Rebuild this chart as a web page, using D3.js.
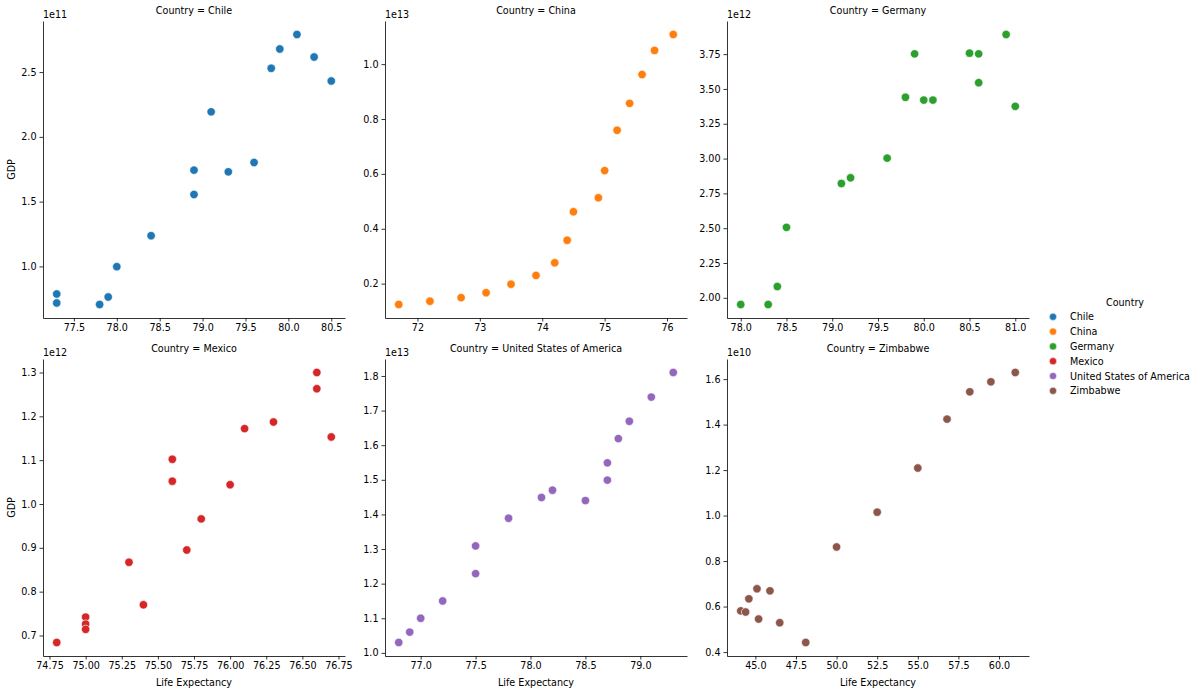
<!DOCTYPE html>
<html>
<head>
<meta charset="utf-8">
<script src="https://cdn.jsdelivr.net/npm/d3@7"></script>
<style>
  body { margin: 0; background: #fff; }
  svg { font-family: "DejaVu Sans", sans-serif; }
</style>
</head>
<body>
<svg id="chart" width="1200" height="694"></svg>
<script>
// data
const countries = ["Chile", "China", "Germany", "Mexico", "United States of America", "Zimbabwe"];
const colors = ["#1f77b4", "#ff7f0e", "#2ca02c", "#d62728", "#9467bd", "#8c564b"];

const lifeChile = [77.3, 77.3, 77.8, 77.9, 78.0, 78.4, 78.9, 78.9, 79.1, 79.3, 79.6, 79.8, 79.9, 80.1, 80.3, 80.5];
const gdpChile = [7.87e10, 7.18e10, 7.06e10, 7.64e10, 9.98e10, 1.237e11, 1.555e11, 1.743e11, 2.193e11, 1.730e11, 1.802e11, 2.529e11, 2.678e11, 2.790e11, 2.616e11, 2.431e11];

const lifeChina = [71.7, 72.2, 72.7, 73.1, 73.5, 73.9, 74.2, 74.4, 74.5, 74.9, 75.0, 75.2, 75.4, 75.6, 75.8, 76.1];
const gdpChina = [1.24e12, 1.36e12, 1.49e12, 1.67e12, 1.98e12, 2.30e12, 2.76e12, 3.58e12, 4.62e12, 5.13e12, 6.12e12, 7.59e12, 8.57e12, 9.62e12, 1.050e13, 1.108e13];

const lifeGermany = [78.0, 78.3, 78.4, 78.5, 79.1, 79.2, 79.6, 79.8, 79.9, 80.0, 80.1, 80.5, 80.6, 80.6, 80.9, 81.0];
const gdpGermany = [1.952e12, 1.952e12, 2.081e12, 2.506e12, 2.821e12, 2.862e12, 3.003e12, 3.440e12, 3.752e12, 3.420e12, 3.420e12, 3.757e12, 3.752e12, 3.545e12, 3.891e12, 3.375e12];

const lifeMexico = [74.8, 75.0, 75.0, 75.0, 75.3, 75.4, 75.6, 75.6, 75.7, 75.8, 76.0, 76.1, 76.3, 76.6, 76.6, 76.7];
const gdpMexico = [6.84e11, 7.42e11, 7.26e11, 7.14e11, 8.67e11, 7.70e11, 1.102e12, 1.052e12, 8.95e11, 9.66e11, 1.044e12, 1.172e12, 1.187e12, 1.300e12, 1.263e12, 1.153e12];

const lifeUSA = [76.8, 76.9, 77.0, 77.2, 77.5, 77.5, 77.8, 78.1, 78.2, 78.5, 78.7, 78.7, 78.8, 78.9, 79.1, 79.3];
const gdpUSA = [1.030e13, 1.060e13, 1.100e13, 1.150e13, 1.229e13, 1.309e13, 1.389e13, 1.449e13, 1.470e13, 1.440e13, 1.499e13, 1.549e13, 1.619e13, 1.669e13, 1.739e13, 1.810e13];

const lifeZimbabwe = [44.1, 44.4, 44.6, 45.1, 45.2, 45.9, 46.5, 48.1, 50.0, 52.5, 55.0, 56.8, 58.2, 59.5, 61.0];
const gdpZimbabwe = [5.81e9, 5.76e9, 6.34e9, 6.78e9, 5.45e9, 6.69e9, 5.29e9, 4.42e9, 8.62e9, 1.015e10, 1.209e10, 1.424e10, 1.544e10, 1.588e10, 1.629e10];

// tick values per facet
const xTicksChile = [77.5, 78.0, 78.5, 79.0, 79.5, 80.0, 80.5];
const yTicksChile = [1.0, 1.5, 2.0, 2.5];
const xTicksChina = [72, 73, 74, 75, 76];
const yTicksChina = [0.2, 0.4, 0.6, 0.8, 1.0];
const xTicksGermany = [78.0, 78.5, 79.0, 79.5, 80.0, 80.5, 81.0];
const yTicksGermany = [2.00, 2.25, 2.50, 2.75, 3.00, 3.25, 3.50, 3.75];
const xTicksMexico = [74.75, 75.00, 75.25, 75.50, 75.75, 76.00, 76.25, 76.50, 76.75];
const yTicksMexico = [0.7, 0.8, 0.9, 1.0, 1.1, 1.2, 1.3];
const xTicksUSA = [77.0, 77.5, 78.0, 78.5, 79.0];
const yTicksUSA = [1.0, 1.1, 1.2, 1.3, 1.4, 1.5, 1.6, 1.7, 1.8];
const xTicksZimbabwe = [45.0, 47.5, 50.0, 52.5, 55.0, 57.5, 60.0];
const yTicksZimbabwe = [0.4, 0.6, 0.8, 1.0, 1.2, 1.4, 1.6];

const exponents = [11, 13, 12, 12, 13, 10];

const facets = [
  {life: lifeChile, gdp: gdpChile, xt: xTicksChile, yt: yTicksChile, xf: ".1f", yf: ".1f"},
  {life: lifeChina, gdp: gdpChina, xt: xTicksChina, yt: yTicksChina, xf: "d", yf: ".1f"},
  {life: lifeGermany, gdp: gdpGermany, xt: xTicksGermany, yt: yTicksGermany, xf: ".1f", yf: ".2f"},
  {life: lifeMexico, gdp: gdpMexico, xt: xTicksMexico, yt: yTicksMexico, xf: ".2f", yf: ".1f"},
  {life: lifeUSA, gdp: gdpUSA, xt: xTicksUSA, yt: yTicksUSA, xf: ".1f", yf: ".1f"},
  {life: lifeZimbabwe, gdp: gdpZimbabwe, xt: xTicksZimbabwe, yt: yTicksZimbabwe, xf: ".1f", yf: ".1f"}
];

// layout
const colLeft = [43, 385, 727];
const rowTop = [21, 359];
const panelW = 302;
const panelH = 297;
const fontSize = 9.6;

const svg = d3.select("#chart");

// matplotlib-like 5% margins
function padded(ext) {
  const m = (ext[1] - ext[0]) * 0.05;
  return [ext[0] - m, ext[1] + m];
}

facets.forEach((f, i) => {
  const col = i % 3, row = Math.floor(i / 3);
  const left = colLeft[col], top = rowTop[row];
  const scaleE = Math.pow(10, exponents[i]);

  const x = d3.scaleLinear().domain(padded(d3.extent(f.life))).range([left, left + panelW]);
  const y = d3.scaleLinear().domain(padded(d3.extent(f.gdp))).range([top + panelH, top]);

  const g = svg.append("g");

  const xAxis = g.append("g")
    .attr("transform", `translate(0,${top + panelH})`)
    .call(d3.axisBottom(x).tickValues(f.xt).tickFormat(d3.format(f.xf))
      .tickSizeInner(3.5).tickSizeOuter(0).tickPadding(3));

  const yAxis = g.append("g")
    .attr("transform", `translate(${left},0)`)
    .call(d3.axisLeft(y).tickValues(f.yt.map(v => v * scaleE))
      .tickFormat(v => d3.format(f.yf)(v / scaleE))
      .tickSizeInner(3.5).tickSizeOuter(0).tickPadding(3));

  [xAxis, yAxis].forEach(a => {
    a.selectAll("text").attr("font-size", fontSize).attr("fill", "#000")
      .attr("font-family", "DejaVu Sans");
    a.selectAll("line").attr("stroke", "#000").attr("stroke-width", 0.8);
    a.select(".domain").attr("stroke", "#000").attr("stroke-width", 0.8);
  });

  // offset text
  g.append("text")
    .attr("x", left)
    .attr("y", top - 3)
    .attr("font-size", fontSize)
    .text("1e" + exponents[i]);

  // facet title
  g.append("text")
    .attr("x", left + panelW / 2)
    .attr("y", top - 7)
    .attr("text-anchor", "middle")
    .attr("font-size", fontSize)
    .text("Country = " + countries[i]);

  // points
  g.append("g")
    .selectAll("circle")
    .data(f.life.map((d, j) => [d, f.gdp[j]]))
    .enter()
    .append("circle")
      .attr("cx", d => x(d[0]))
      .attr("cy", d => y(d[1]))
      .attr("r", 4.2)
      .attr("fill", colors[i])
      .attr("stroke", "#fff")
      .attr("stroke-width", 0.6);

  if (col == 0) {
    g.append("text")
      .attr("transform", `translate(15,${top + panelH / 2}) rotate(-90)`)
      .attr("text-anchor", "middle")
      .attr("font-size", fontSize)
      .text("GDP");
  }
  if (row == 1) {
    g.append("text")
      .attr("x", left + panelW / 2)
      .attr("y", 686)
      .attr("text-anchor", "middle")
      .attr("font-size", fontSize)
      .text("Life Expectancy");
  }
});

// legend
const legend = svg.append("g");
legend.append("text")
  .attr("x", 1125)
  .attr("y", 305.5)
  .attr("text-anchor", "middle")
  .attr("font-size", fontSize)
  .text("Country");

const legendItem = legend.selectAll(".legend-item")
  .data(countries)
  .enter()
  .append("g")
    .attr("class", "legend-item")
    .attr("transform", (d, i) => `translate(1053,${316.8 + i * 14.8})`);

legendItem.append("circle")
  .attr("r", 3.6)
  .attr("fill", (d, i) => colors[i])
  .attr("stroke", "#fff")
  .attr("stroke-width", 0.5);

legendItem.append("text")
  .attr("x", 17)
  .attr("y", 3.5)
  .attr("font-size", fontSize)
  .text(d => d);
</script>
</body>
</html>
